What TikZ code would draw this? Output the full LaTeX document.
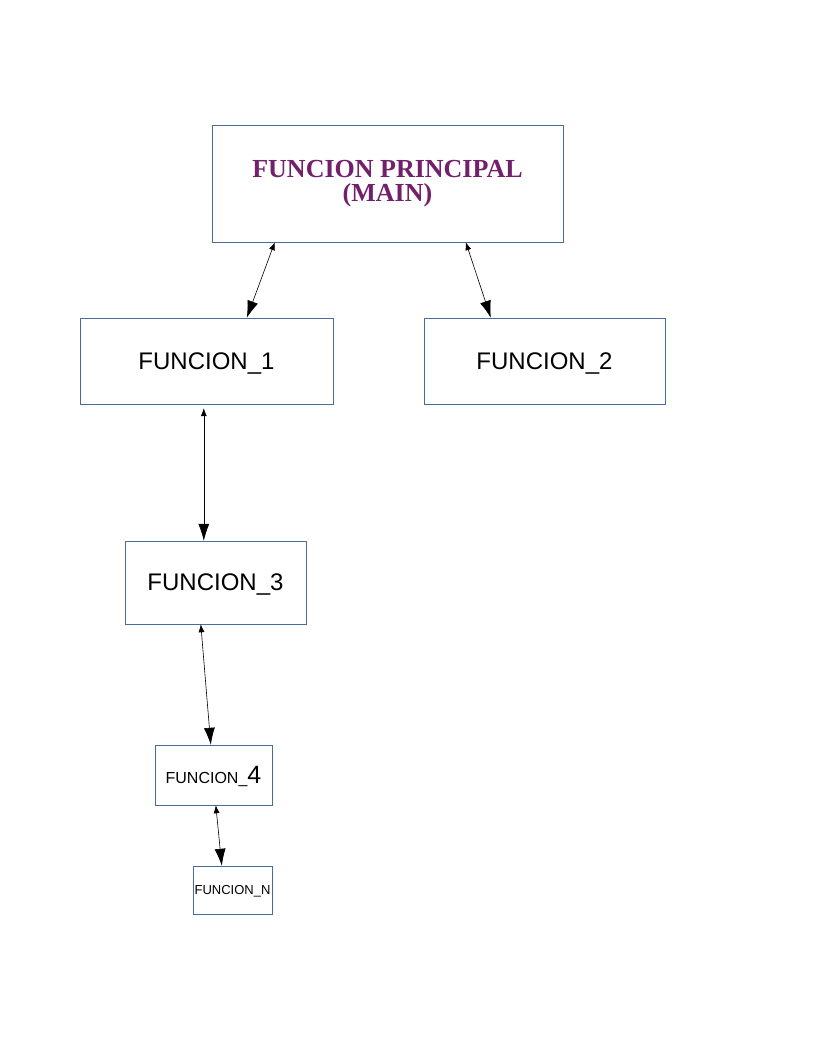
\documentclass[tikz,border=0pt]{standalone}
\usepackage{fontspec}
\setmainfont{Liberation Serif}
\newfontfamily\boxfont{Liberation Sans}
\usetikzlibrary{positioning, arrows.meta}
\definecolor{boxblue}{HTML}{4A6C9B}
\definecolor{mainpurple}{HTML}{73206B}

\begin{document}
\begin{tikzpicture}[x=1pt, y=-1pt, semithick,
    func/.style={draw=boxblue, thin, inner sep=0pt, text depth=0pt, text=black, font=\boxfont\fontsize{24}{26}\selectfont},
    link/.style={black, {Latex[length=8pt,width=6pt]}-{Latex[length=17pt,width=11pt]}}]
      \useasboundingbox (0,0) rectangle (816,1056);
      % boxes
      \node[func, minimum width=351pt, minimum height=117pt, align=center, text=mainpurple, text depth=,
        font=\bfseries\fontsize{26}{24}\selectfont] (main) at (387.5,183.5) {FUNCION PRINCIPAL\\(MAIN)};
      \node[func, minimum width=253pt, minimum height=86pt] (f1) at (206.5,361) {FUNCION\_1};
      \node[func, minimum width=241pt, minimum height=86pt] (f2) at (544.5,361) {FUNCION\_2};
      \node[func, minimum width=181pt, minimum height=83pt] (f3) at (215.5,582.5) {FUNCION\_3};
      \node[func, minimum width=117pt, minimum height=60pt] (f4) at (213.5,775)
        {\fontsize{16}{18}\selectfont FUNCION\_\fontsize{25}{27}\selectfont 4};
      \node[func, minimum width=79pt, minimum height=48pt, font=\boxfont\fontsize{13}{15}\selectfont] (fn) at (232.5,890) {FUNCION\_N};

      % connectors
      \draw[link] ([xshift=63pt]main.south west) -- ([xshift=167pt]f1.north west);
      \draw[link] ([xshift=254pt]main.south west) -- ([xshift=67pt]f2.north west);
      \draw[link] ([xshift=124pt, yshift=-4pt]f1.south west) -- ([xshift=79pt]f3.north west);
      \draw[link] ([xshift=76pt]f3.south west) -- ([xshift=56pt]f4.north west);
      \draw[link] ([xshift=61pt]f4.south west) -- ([xshift=29pt]fn.north west);
    \end{tikzpicture}
\end{document}
